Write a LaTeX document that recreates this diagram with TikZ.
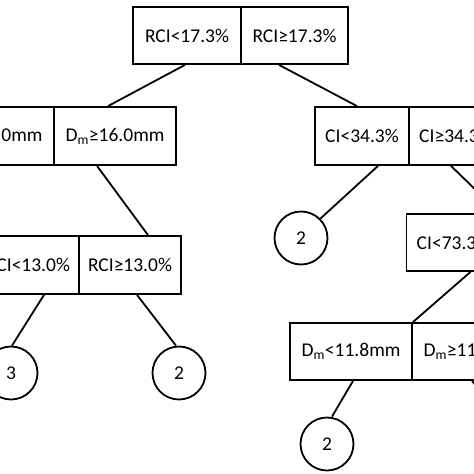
\documentclass[tikz,border=0pt]{standalone}
\usepackage{fontspec}
\setmainfont{Carlito}
\begin{document}
\begin{tikzpicture}[x=1pt,y=-1pt,
  half/.style={draw, line width=1.8pt, inner sep=0pt, minimum height=57pt, font=\fontsize{19.5}{23}\selectfont},
  leaf/.style={draw, circle, line width=1.8pt, inner sep=0pt, minimum size=53pt, font=\fontsize{19.5}{23}\selectfont},
  edge/.style={line width=1.8pt}]
\clip (0,0) rectangle (474,474);
% root
\node[half, minimum width=108pt] (rootL) at (187,35.5) {RCI<17.3\%};
\node[half, minimum width=107pt] (rootR) at (294.5,35.5) {RCI≥17.3\%};
% level 2 left
\node[half, minimum width=122pt, minimum height=58pt] (aL) at (-7,136) {D\textsubscript{m}<16.0mm};
\node[half, minimum width=122pt, minimum height=58pt] (aR) at (115,136) {D\textsubscript{m}≥16.0mm};
% level 2 right
\node[half, minimum width=94pt, minimum height=58pt] (bL) at (362,136) {CI<34.3\%};
\node[half, minimum width=94pt, minimum height=58pt] (bR) at (456,136) {CI≥34.3\%};
% level 3 left
\node[half, minimum width=102pt, minimum height=58pt] (cL) at (28,265) {RCI<13.0\%};
\node[half, minimum width=102pt, minimum height=58pt] (cR) at (130,265) {RCI≥13.0\%};
% level 3 right
\node[half, minimum width=94pt] (dL) at (453.5,242.5) {CI<73.3\%};
\node[half, minimum width=94pt] (dR) at (547.5,242.5) {CI≥73.3\%};
% level 4 right
\node[half, minimum width=122pt] (eL) at (351,351.5) {D\textsubscript{m}<11.8mm};
\node[half, minimum width=122pt] (eR) at (473,351.5) {D\textsubscript{m}≥11.8mm};
% leaves
\node[leaf] (n1) at (301,238) {2};
\node[leaf] (n2) at (11,373) {3};
\node[leaf] (n3) at (179,373) {2};
\node[leaf] (n4) at (327,444) {2};
\coordinate (n5) at (505,420);
% connectors
\draw[edge] ([xshift=-2pt]rootL.south) -- ([xshift=-7pt]aR.north);
\draw[edge] ([xshift=-15.5pt]rootR.south) -- ([xshift=-5pt]bL.north);
\draw[edge] ([xshift=-18pt]aR.south) -- ([xshift=18pt]cR.north);
\draw[edge] ([xshift=16pt]cL.south) -- ([xshift=1pt]n2.north);
\draw[edge] ([xshift=7pt]cR.south) -- ([xshift=-3pt]n3.north);
\draw[edge] ([xshift=16pt]bL.south) -- (n1.north east);
\draw[edge] ([xshift=-5pt]bR.south) -- (dR.north west);
\draw[edge] ([xshift=17pt]dL.south) -- (eL.north east);
\draw[edge] ([xshift=2pt]eL.south) -- ([xshift=5pt]n4.north);
\draw[edge] ([xshift=-1pt]eR.south) -- (n5);
\end{tikzpicture}
\end{document}
